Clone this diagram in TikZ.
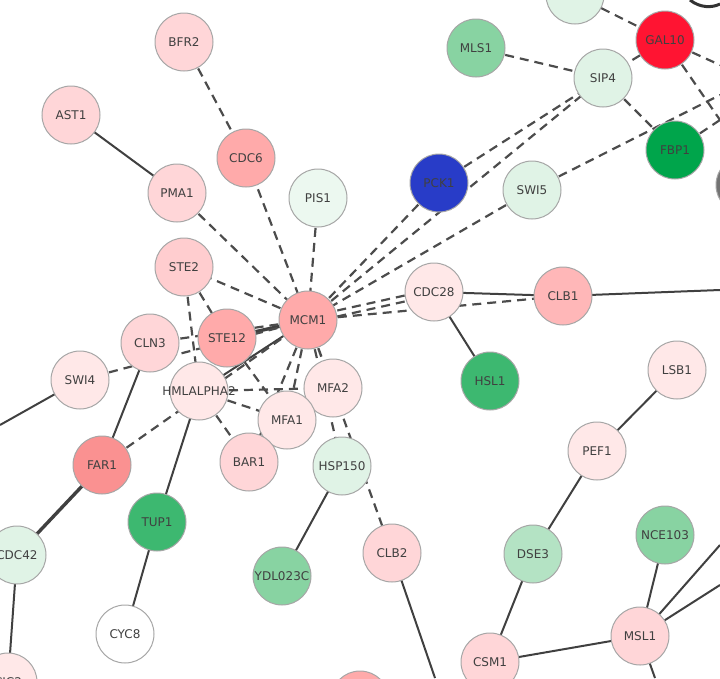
\documentclass[tikz,border=0pt]{standalone}
\usepackage{fontspec}
\setmainfont{DejaVu Sans}
\begin{document}
\begin{tikzpicture}[x=1pt,y=-1pt,
 n/.style={circle,draw=black!35,line width=1pt,minimum size=58pt,inner sep=0pt,font=\fontsize{12}{13}\selectfont,text=black!75},
 s/.style={draw=black!75,line width=2pt},
 d/.style={draw=black!70,line width=2.2pt,dash pattern=on 9pt off 6pt}]
\useasboundingbox (0,0) rectangle (720,678);
\clip (0,0) rectangle (720,678);
\definecolor{pk1}{HTML}{FFD6D8}\definecolor{pk2}{HTML}{FFAAAA}\definecolor{pk0}{HTML}{FFE8E8}
\definecolor{gn0}{HTML}{E0F3E6}\definecolor{gn1}{HTML}{88D3A2}\definecolor{gn2}{HTML}{3DB870}
\coordinate (e1) at (720,290);\coordinate (e2) at (0,425);\coordinate (e3) at (435,678);
\coordinate (e4) at (720,545);\coordinate (e5) at (720,585);\coordinate (e6) at (655,678);
\coordinate (e7) at (720,95);\coordinate (e8) at (720,65);\coordinate (e9) at (720,120);
\node[n,fill=gn0] (TOP) at (575,-5) {};
\node[n,fill=black!55] (GRY) at (745,185) {};
\path
 (184,42) coordinate (BFR2) (71,115) coordinate (AST1) (246,158) coordinate (CDC6)
 (177,193) coordinate (PMA1) (318,198) coordinate (PIS1) (439,183) coordinate (PCK1)
 (532,190) coordinate (SWI5) (476,48) coordinate (MLS1) (603,78) coordinate (SIP4)
 (665,40) coordinate (GAL10) (675,150) coordinate (FBP1) (184,267) coordinate (STE2)
 (308,320) coordinate (MCM1) (434,292) coordinate (CDC28) (563,296) coordinate (CLB1)
 (227,338) coordinate (STE12) (150,343) coordinate (CLN3) (80,380) coordinate (SWI4)
 (199,391) coordinate (HML) (333,388) coordinate (MFA2) (287,420) coordinate (MFA1)
 (249,462) coordinate (BAR1) (490,381) coordinate (HSL1) (677,370) coordinate (LSB1)
 (597,451) coordinate (PEF1) (102,465) coordinate (FAR1) (342,466) coordinate (HSP150)
 (157,522) coordinate (TUP1) (17,555) coordinate (CDC42) (282,576) coordinate (YDL)
 (392,553) coordinate (CLB2) (533,554) coordinate (DSE3) (665,535) coordinate (NCE103)
 (125,634) coordinate (CYC8) (640,636) coordinate (MSL1) (490,662) coordinate (CSM1)
 (8,682) coordinate (CIC2) (360,700) coordinate (BOT);
\draw[s] (AST1)--(PMA1) (CDC28)--(CLB1)--(e1) (CDC28)--(HSL1) (CLN3)--(FAR1) (SWI4)--(e2)
 (HML)--(TUP1)--(CYC8) (HSP150)--(YDL) (CDC42)--(CIC2) (CLB2)--(e3) (LSB1)--(PEF1)--(DSE3)--(CSM1)--(MSL1)
 (NCE103)--(MSL1)--(e4) (MSL1)--(e5) (MSL1)--(e6) (HML)--(MCM1);
\draw[s,double=black!75,double distance=1pt,line width=1.2pt] (FAR1)--(CDC42) (STE12)--(MCM1);
\draw[d] (BFR2)--(CDC6)--(MCM1) (PMA1)--(MCM1) (PIS1)--(MCM1) (PCK1)--(MCM1) (PCK1)--(SIP4)
 (SWI5)--(MCM1) (SWI5)--(e7) (MCM1)--(SIP4) (MLS1)--(SIP4)--(GAL10) (SIP4)--(FBP1)
 (GAL10)--(e8) (GAL10)--(e9) (TOP)--(GAL10) (FBP1)--(e9)
 (MCM1)--(STE2) (MCM1)--(CLN3) (MCM1)--(MFA2) (MCM1)--(MFA1) (MCM1)--(BAR1) (MCM1)--(HSP150) (MCM1)--(CLB2)
 ([yshift=-3]MCM1)--([yshift=-3]CDC28) ([yshift=3]MCM1)--([yshift=3]CDC28) (MCM1)--(CLB1) (SWI4)--(MCM1)
 (FAR1)--(MCM1) (STE2)--(HML) (STE2)--(STE12) (STE12)--(MFA1) (HML)--(MFA2) (HML)--(MFA1) (HML)--(BAR1);
\draw[black!80,line width=3pt] (690,0)..controls (700,8) and (712,8)..(720,4);
\node[n,fill=pk1] at (BFR2) {BFR2};
\node[n,fill=pk1] at (AST1) {AST1};
\node[n,fill=pk2] at (CDC6) {CDC6};
\node[n,fill=pk1] at (PMA1) {PMA1};
\node[n,fill=gn0!60] at (PIS1) {PIS1};
\node[n,fill={rgb,255:red,40;green,60;blue,200}] at (PCK1) {PCK1};
\node[n,fill=gn0] at (SWI5) {SWI5};
\node[n,fill=gn1] at (MLS1) {MLS1};
\node[n,fill=gn0] at (SIP4) {SIP4};
\node[n,fill={rgb,255:red,255;green,20;blue,50}] at (GAL10) {GAL10};
\node[n,fill={rgb,255:red,0;green,165;blue,75}] at (FBP1) {FBP1};
\node[n,fill=pk1!80!pk2] at (STE2) {STE2};
\node[n,fill=pk2] at (MCM1) {MCM1};
\node[n,fill=pk0] at (CDC28) {CDC28};
\node[n,fill=pk2!70!pk1] at (CLB1) {CLB1};
\node[n,fill=pk2] at (STE12) {STE12};
\node[n,fill=pk1] at (CLN3) {CLN3};
\node[n,fill=pk0] at (SWI4) {SWI4};
\node[n,fill=pk0] at (MFA2) {MFA2};
\node[n,fill=pk0] at (MFA1) {MFA1};
\node[n,fill=pk0,label={[font=\fontsize{12}{13}\selectfont,text=black!75]center:HMLALPHA2}] at (HML) {};
\node[n,fill=pk1] at (BAR1) {BAR1};
\node[n,fill=gn2] at (HSL1) {HSL1};
\node[n,fill=pk0] at (LSB1) {LSB1};
\node[n,fill=pk0] at (PEF1) {PEF1};
\node[n,fill={rgb,255:red,250;green,145;blue,145}] at (FAR1) {FAR1};
\node[n,fill=gn0] at (HSP150) {HSP150};
\node[n,fill=gn2] at (TUP1) {TUP1};
\node[n,fill=gn0] at (CDC42) {CDC42};
\node[n,fill=gn1] at (YDL) {YDL023C};
\node[n,fill=pk1] at (CLB2) {CLB2};
\node[n,fill=gn0!50!gn1] at (DSE3) {DSE3};
\node[n,fill=gn1] at (NCE103) {NCE103};
\node[n,fill=white] at (CYC8) {CYC8};
\node[n,fill=pk1] at (MSL1) {MSL1};
\node[n,fill=pk1] at (CSM1) {CSM1};
\node[n,fill=pk0] at (CIC2) {CIC2};
\node[n,fill=pk2] at (BOT) {};
\end{tikzpicture}
\end{document}
